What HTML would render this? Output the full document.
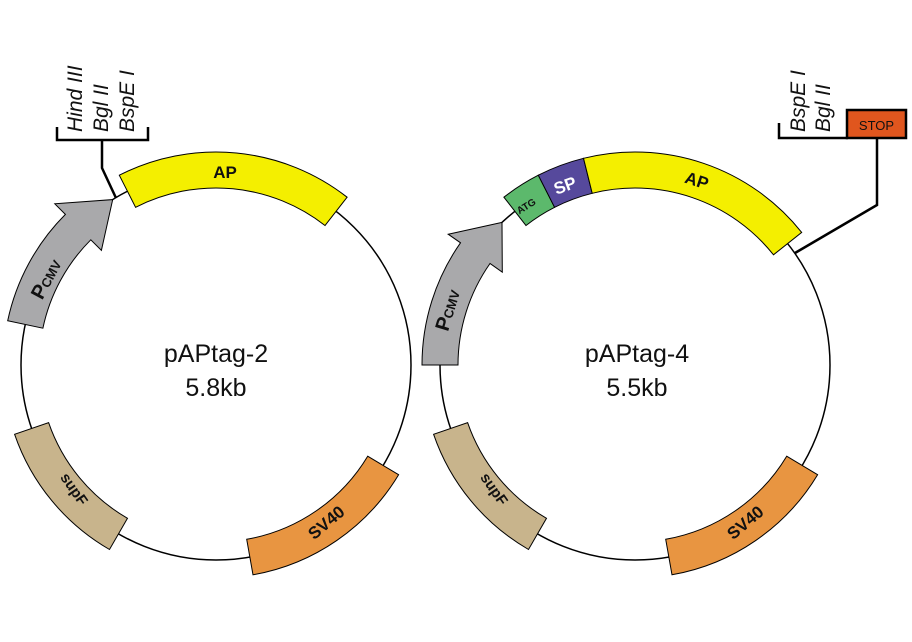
<!DOCTYPE html>
<html><head><meta charset="utf-8"><style>
html,body{margin:0;padding:0;background:#fff;}
svg{display:block;}
text{font-family:"Liberation Sans",sans-serif;}
</style></head><body>
<svg id="s" width="912" height="642" viewBox="0 0 912 642" xmlns="http://www.w3.org/2000/svg">
<g id="g"></g>
<!-- connectors left -->
<polyline points="116,198 102,168 102,140" fill="none" stroke="#000" stroke-width="2.5"/>
<polyline points="57,127 57,140 148,140 148,127" fill="none" stroke="#000" stroke-width="2.5"/>
<g font-size="21" font-style="italic" fill="#111">
<text transform="translate(82,132) rotate(-90)">Hind III</text>
<text transform="translate(108,132) rotate(-90)">Bgl II</text>
<text transform="translate(134,132) rotate(-90)">BspE I</text>
</g>
<!-- connectors right -->
<polyline points="795,253 877,205 877,138" fill="none" stroke="#000" stroke-width="2.5"/>
<polyline points="779,123 779,138 848,138" fill="none" stroke="#000" stroke-width="2.5"/>
<rect x="847" y="110" width="59" height="28" fill="#e0561e" stroke="#000" stroke-width="2.5"/>
<text x="876.5" y="130" font-size="13" text-anchor="middle" fill="#111">STOP</text>
<g font-size="21" font-style="italic" fill="#111">
<text transform="translate(805,132) rotate(-90)">BspE I</text>
<text transform="translate(830,132) rotate(-90)">Bgl II</text>
</g>
<!-- center labels -->
<g font-size="25" text-anchor="middle" fill="#111">
<text x="216" y="362">pAPtag-2</text>
<text x="216" y="396">5.8kb</text>
<text x="637" y="362">pAPtag-4</text>
<text x="637" y="396">5.5kb</text>
</g>
<!-- feature labels -->
<g font-weight="bold" text-anchor="middle" fill="#111">
<text x="225" y="178" font-size="17">AP</text>
<text transform="translate(52,282) rotate(-62)" font-size="20">P<tspan font-size="13">CMV</tspan></text>
<text transform="translate(70,492) rotate(55)" font-size="15">supF</text>
<text transform="translate(330,527) rotate(-40)" font-size="17">SV40</text>
<text transform="translate(695,186) rotate(18)" font-size="17">AP</text>
<text transform="translate(567,191) rotate(-20)" font-size="17" fill="#fff">SP</text>
<text transform="translate(528,209) rotate(-32)" font-size="10">ATG</text>
<text transform="translate(454,312) rotate(-73)" font-size="20">P<tspan font-size="13">CMV</tspan></text>
<text transform="translate(490,492) rotate(55)" font-size="15">supF</text>
<text transform="translate(749,527) rotate(-40)" font-size="17">SV40</text>
</g>
</svg>
<script>
var g=document.getElementById('g'),NS='http://www.w3.org/2000/svg';
function P(cx,cy,r,t){t=t*Math.PI/180;return [cx+r*Math.sin(t),cy-r*Math.cos(t)];}
function f(p){return p[0].toFixed(1)+','+p[1].toFixed(1);}
function add(tag,at){var e=document.createElementNS(NS,tag);for(var k in at)e.setAttribute(k,at[k]);g.appendChild(e);}
function band(cx,cy,a,b,col){var R=213,r=177;
 var d='M'+f(P(cx,cy,R,a))+' A'+R+','+R+' 0 0 1 '+f(P(cx,cy,R,b))+' L'+f(P(cx,cy,r,b))+' A'+r+','+r+' 0 0 0 '+f(P(cx,cy,r,a))+' Z';
 add('path',{d:d,fill:col,stroke:'#000','stroke-width':1});}
function arrow(cx,cy,a,b,tip,col){var R=213,r=177;
 var d='M'+f(P(cx,cy,R,a))+' A'+R+','+R+' 0 0 1 '+f(P(cx,cy,R,b))+' L'+f(P(cx,cy,228,b))+' L'+f(P(cx,cy,195,tip))+' L'+f(P(cx,cy,162,b))+' L'+f(P(cx,cy,r,b))+' A'+r+','+r+' 0 0 0 '+f(P(cx,cy,r,a))+' Z';
 add('path',{d:d,fill:col,stroke:'#000','stroke-width':1});}
[216,635].forEach(function(c){add('circle',{cx:c,cy:365,r:195,fill:'none',stroke:'#000','stroke-width':1.5});});
var L=216,Rc=635,cy=365;
band(L,cy,-27,38,'#f4ef00');
arrow(L,cy,-78,-45,-32,'#a9a9ab');
band(L,cy,210,251,'#c8b48c');
band(L,cy,121,170,'#e89541');
band(Rc,cy,-38,-27,'#5cb96c');
band(Rc,cy,-27,-14,'#56499c');
band(Rc,cy,-14,51.5,'#f4ef00');
arrow(Rc,cy,-90,-55,-43,'#a9a9ab');
band(Rc,cy,210,251,'#c8b48c');
band(Rc,cy,121,170,'#e89541');
</script>
</body></html>
